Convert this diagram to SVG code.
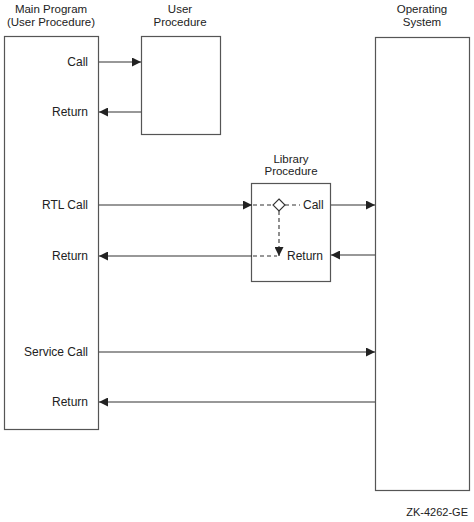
<svg xmlns="http://www.w3.org/2000/svg" width="474" height="522" viewBox="0 0 474 522">
<defs>
<marker id="ah" viewBox="0 0 10 10" refX="10" refY="5" markerWidth="9" markerHeight="9" markerUnits="userSpaceOnUse" orient="auto"><path d="M0,0 L10,5 L0,10 Z" fill="#222"/></marker>
</defs>
<style>
.box{fill:#fff;stroke:#555;stroke-width:1.2}
.t{font-family:"Liberation Sans",Arial,sans-serif;font-size:12px;fill:#222}
.h{font-size:11.5px}
.c{text-anchor:middle}
.r{text-anchor:end}
.ln{stroke:#333;stroke-width:1.1;fill:none}
.d{stroke:#333;stroke-width:1.1;fill:none;stroke-dasharray:4,3}
</style>
<rect width="474" height="522" fill="#fff"/>
<g id="main">
<rect class="box" x="4.5" y="36.5" width="94" height="393"/>
<text class="t h c" x="51" y="13"><tspan x="51">Main Program</tspan><tspan x="51" dy="12.5">(User Procedure)</tspan></text>
<text class="t r" x="88" y="66">Call</text>
<text class="t r" x="88" y="116">Return</text>
<text class="t r" x="88" y="209">RTL Call</text>
<text class="t r" x="88" y="260">Return</text>
<text class="t r" x="88" y="356">Service Call</text>
<text class="t r" x="88" y="406">Return</text>
</g>
<g id="user">
<rect class="box" x="141.5" y="36.5" width="79" height="98"/>
<text class="t h c" x="180" y="13"><tspan x="180">User</tspan><tspan x="180" dy="12.5">Procedure</tspan></text>
</g>
<g id="library">
<rect class="box" x="251.5" y="183.5" width="79" height="98"/>
<text class="t h c" x="291" y="162.5"><tspan x="291">Library</tspan><tspan x="291" dy="12.5">Procedure</tspan></text>
<text class="t" x="303" y="209">Call</text>
<text class="t" x="287" y="260">Return</text>
<path d="M279,199 L285,205 L279,211 L273,205 Z" fill="#fff" stroke="#333" stroke-width="1.1"/>
</g>
<g id="os">
<rect class="box" x="375.5" y="37.5" width="94" height="453"/>
<text class="t h c" x="422" y="13"><tspan x="422">Operating</tspan><tspan x="422" dy="12.5">System</tspan></text>
</g>
<g id="connectors">
<line class="ln" x1="99" y1="62" x2="141" y2="62" marker-end="url(#ah)"/>
<line class="ln" x1="141" y1="112" x2="99" y2="112" marker-end="url(#ah)"/>
<line class="ln" x1="99" y1="205" x2="252" y2="205" marker-end="url(#ah)"/>
<line class="ln" x1="252" y1="256" x2="99" y2="256" marker-end="url(#ah)"/>
<line class="ln" x1="331" y1="205" x2="375" y2="205" marker-end="url(#ah)"/>
<line class="ln" x1="375" y1="255" x2="331" y2="255" marker-end="url(#ah)"/>
<line class="ln" x1="99" y1="352" x2="375" y2="352" marker-end="url(#ah)"/>
<line class="ln" x1="375" y1="402" x2="99" y2="402" marker-end="url(#ah)"/>
<line class="d" x1="253" y1="205" x2="273" y2="205"/>
<line class="d" x1="285" y1="205" x2="300" y2="205"/>
<line class="d" x1="279" y1="211" x2="279" y2="256" marker-end="url(#ah)"/>
<line class="d" x1="253" y1="256" x2="277" y2="256"/>
</g>
<text class="t r" x="468" y="516" style="font-size:11px">ZK-4262-GE</text>
</svg>
